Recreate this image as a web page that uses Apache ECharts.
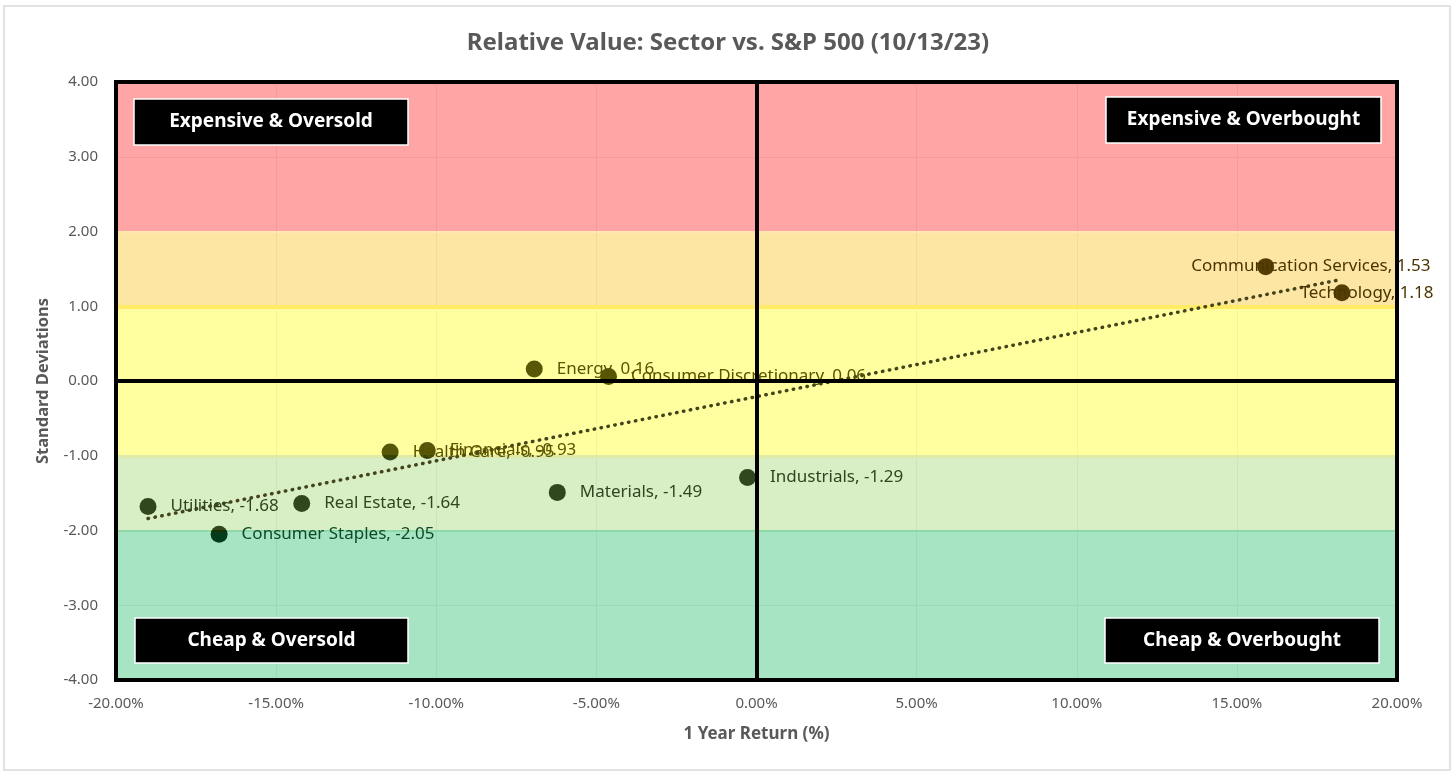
<!DOCTYPE html>
<html>
<head>
<meta charset="utf-8">
<script src="https://cdn.jsdelivr.net/npm/echarts@6/dist/echarts.min.js"></script>
<style>
html,body{margin:0;padding:0;background:#fff;}
#chart{width:1456px;height:778px;}
</style>
</head>
<body>
<div id="chart"></div>
<script>
// ---- data ----
const sectors = ['Utilities','Consumer Staples','Real Estate','Health Care','Financials','Energy','Consumer Discretionary','Materials','Industrials','Communication Services','Technology'];
const returns = [-19.0, -16.78, -14.2, -11.44, -10.28, -6.94, -4.62, -6.22, -0.28, 15.9, 18.28];
const zscores = [-1.68, -2.05, -1.64, -0.95, -0.93, 0.16, 0.06, -1.49, -1.29, 1.53, 1.18];
const trendX = [-19.0, 18.28];
const trendY = [-1.84, 1.36];
const bandEdges = [4, 2, 1, -1, -2, -4];
const xTicks = {min: -20, max: 20, step: 5};
const yTicks = {min: -4, max: 4, step: 1};
const quadrantLabels = ['Expensive & Oversold', 'Expensive & Overbought', 'Cheap & Oversold', 'Cheap & Overbought'];
const titleText = 'Relative Value: Sector vs. S&P 500 (10/13/23)';

// ---- styles ----
const bandColors = ['rgba(255,142,142,0.8)','rgba(252,224,140,0.8)','rgba(255,255,136,0.8)','rgba(206,234,181,0.8)','rgba(144,221,181,0.8)'];
const labelOffsets = {'Communication Services': [-97, 0], 'Technology': [-64, 0]};
const FONT = '"Noto Sans", "DejaVu Sans", sans-serif';

function labelColorFor(z) {
  if (z >= 1) return '#4a3500';
  if (z >= -1) return '#5a5300';
  if (z >= -2) return '#2e4520';
  return '#0d4a2a';
}

const chart = echarts.init(document.getElementById('chart'));

const bandData = [];
for (let i = 0; i < bandColors.length; i++) {
  bandData.push([{yAxis: bandEdges[i], itemStyle: {color: bandColors[i]}}, {yAxis: bandEdges[i+1]}]);
}

const points = sectors.map((s, i) => ({
  name: s,
  value: [returns[i], zscores[i]],
  label: Object.assign({color: labelColorFor(zscores[i])}, labelOffsets[s] ? {offset: labelOffsets[s]} : {})
}));

const quadBoxes = [
  {x: 134, y: 99, w: 274, h: 46},
  {x: 1106, y: 97, w: 275, h: 46},
  {x: 135, y: 618, w: 273, h: 45},
  {x: 1105, y: 618, w: 274, h: 45}
];
const graphics = [{
  type: 'rect', z: -10, silent: true,
  shape: {x: 4, y: 6, width: 1446, height: 764},
  style: {fill: 'none', stroke: '#d9d9d9', lineWidth: 1.5}
}];
quadBoxes.forEach((b, i) => {
  graphics.push({
    type: 'rect', z: 100,
    shape: {x: b.x, y: b.y, width: b.w, height: b.h},
    style: {fill: '#000', stroke: '#fff', lineWidth: 1.5}
  });
  graphics.push({
    type: 'text', z: 101,
    x: b.x + b.w / 2, y: b.y + b.h / 2,
    style: {text: quadrantLabels[i], fill: '#fff', font: 'bold 19px ' + FONT, align: 'center', verticalAlign: 'middle'}
  });
});

chart.setOption({
  animation: false,
  backgroundColor: '#fff',
  title: {
    text: titleText, left: 'center', top: 26,
    textStyle: {fontFamily: FONT, fontSize: 24, fontWeight: 'bold', color: '#595959'}
  },
  grid: {left: 116, right: 59, top: 82, bottom: 98, show: true, borderColor: '#000', borderWidth: 4, backgroundColor: 'transparent', z: 10},
  xAxis: {
    type: 'value', min: xTicks.min, max: xTicks.max, interval: xTicks.step,
    name: '1 Year Return (%)', nameLocation: 'middle', nameGap: 46,
    nameTextStyle: {fontFamily: FONT, fontSize: 17, fontWeight: 'bold', color: '#595959'},
    axisLine: {show: false}, axisTick: {show: false},
    axisLabel: {margin: 16, fontFamily: FONT, fontSize: 15, color: '#595959', formatter: v => v.toFixed(2) + '%'},
    splitLine: {show: true, lineStyle: {color: '#c8c8c8', width: 1}}
  },
  yAxis: {
    type: 'value', min: yTicks.min, max: yTicks.max, interval: yTicks.step,
    name: 'Standard Deviations', nameLocation: 'middle', nameGap: 64, nameRotate: 90,
    nameTextStyle: {fontFamily: FONT, fontSize: 16.5, fontWeight: 'bold', color: '#595959'},
    axisLine: {show: false}, axisTick: {show: false},
    axisLabel: {margin: 18, fontFamily: FONT, fontSize: 15, color: '#595959', formatter: v => v.toFixed(2)},
    splitLine: {show: true, lineStyle: {color: '#c8c8c8', width: 1}}
  },
  graphic: graphics,
  series: [
    {
      type: 'line', data: [], z: 1, silent: true,
      markArea: {silent: true, z: 1, data: bandData},
      markLine: {
        silent: true, z: 2, symbol: 'none', label: {show: false},
        data: [
          {yAxis: 1, lineStyle: {color: '#ffeb66', width: 4, type: 'solid'}},
          {yAxis: 2, lineStyle: {color: '#fde8b0', width: 2, type: 'solid'}},
          {yAxis: -1, lineStyle: {color: '#e0eaa8', width: 3, type: 'solid'}},
          {yAxis: -2, lineStyle: {color: '#8fd8a8', width: 2, type: 'solid'}}
        ]
      }
    },
    {
      type: 'line', z: 4, silent: true,
      data: trendX.map((x, i) => [x, trendY[i]]),
      symbol: 'none',
      lineStyle: {color: '#43431c', width: 3.5, type: [0.5, 6.5], cap: 'round'}
    },
    {
      type: 'scatter', z: 5,
      blendMode: 'difference',
      symbolSize: 17,
      itemStyle: {color: '#a8a8a8', opacity: 1},
      data: points,
      label: {
        show: true, position: 'right', distance: 14,
        fontFamily: FONT, fontSize: 17,
        formatter: p => p.name + ', ' + p.value[1].toFixed(2)
      }
    },
    {
      type: 'line', data: [], z: 8, silent: true,
      markLine: {
        silent: true, z: 9, symbol: 'none', label: {show: false},
        lineStyle: {color: '#000', width: 4, type: 'solid'},
        data: [{xAxis: 0}, {yAxis: 0}]
      }
    }
  ]
});
</script>
</body>
</html>
